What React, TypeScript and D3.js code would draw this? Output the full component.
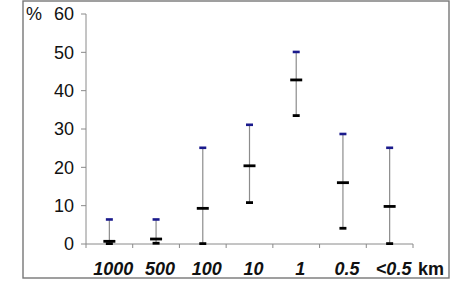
import React from "react";
import * as d3 from "d3";

const categories = ["1000", "500", "100", "10", "1", "0.5", "<0.5"];
const maxValues = [6.4, 6.4, 25.1, 31.1, 50.1, 28.7, 25.1];
const meanValues = [0.7, 1.3, 9.3, 20.4, 42.8, 16.0, 9.8];
const minValues = [0.1, 0.2, 0.1, 10.8, 33.5, 4.1, 0.1];
const yTicks = [0, 10, 20, 30, 40, 50, 60];

const W = 474;
const H = 289;

export default function App() {
  const x = d3.scaleBand<string>().domain(categories).range([86, 413]).padding(0);
  const y = d3.scaleLinear().domain([0, 60]).range([244, 14]);
  const font = "'Liberation Sans', Arial, sans-serif";
  const axisColor = "#8a8a8a";
  const cx = (c: string) => (x(c) as number) + x.bandwidth() / 2;
  const tickXs = categories.map((c) => x(c) as number).concat([413]);

  return (
    <svg width={W} height={H} style={{ position: "absolute", left: 0, top: 0, background: "#fff" }}>
      <rect x={23} y={1} width={426} height={277} fill="#fff" stroke="#777" strokeWidth={1.4} />
      {/* y axis */}
      <line x1={86} x2={86} y1={y(60)} y2={y(0)} stroke={axisColor} strokeWidth={1} />
      {yTicks.map((t) => (
        <g key={t}>
          <line x1={81} x2={86} y1={y(t)} y2={y(t)} stroke={axisColor} strokeWidth={1} />
          <text x={74} y={y(t)} dy="0.36em" textAnchor="end" fontFamily={font} fontSize={18} fill="#111">
            {t}
          </text>
        </g>
      ))}
      <text x={26} y={y(60)} dy="0.36em" fontFamily={font} fontSize={18} fill="#111">%</text>
      {/* x axis */}
      <line x1={86} x2={413} y1={y(0)} y2={y(0)} stroke={axisColor} strokeWidth={1} />
      {tickXs.map((tx, i) => (
        <line key={i} x1={tx} x2={tx} y1={y(0)} y2={y(0) + 4} stroke={axisColor} strokeWidth={1} />
      ))}
      {categories.map((c) => (
        <text key={c} x={cx(c) + 4} y={275} textAnchor="middle" fontFamily={font} fontSize={18} fontWeight="bold" fontStyle="italic" fill="#111">
          {c}
        </text>
      ))}
      <text x={418} y={275} fontFamily={font} fontSize={18} fontWeight="bold" fill="#111">km</text>
      {/* error bars */}
      {categories.map((c, i) => {
        const px = cx(c);
        return (
          <g key={c}>
            <line x1={px} x2={px} y1={y(maxValues[i])} y2={y(minValues[i])} stroke="#8c8c8c" strokeWidth={1.2} />
            <line x1={px - 3.5} x2={px + 3.5} y1={y(maxValues[i])} y2={y(maxValues[i])} stroke="#1a1a8c" strokeWidth={2.6} />
            <line x1={px - 6} x2={px + 6} y1={y(meanValues[i])} y2={y(meanValues[i])} stroke="#000" strokeWidth={2.8} />
            <line x1={px - 3.5} x2={px + 3.5} y1={y(minValues[i])} y2={y(minValues[i])} stroke="#000" strokeWidth={2.8} />
          </g>
        );
      })}
    </svg>
  );
}
